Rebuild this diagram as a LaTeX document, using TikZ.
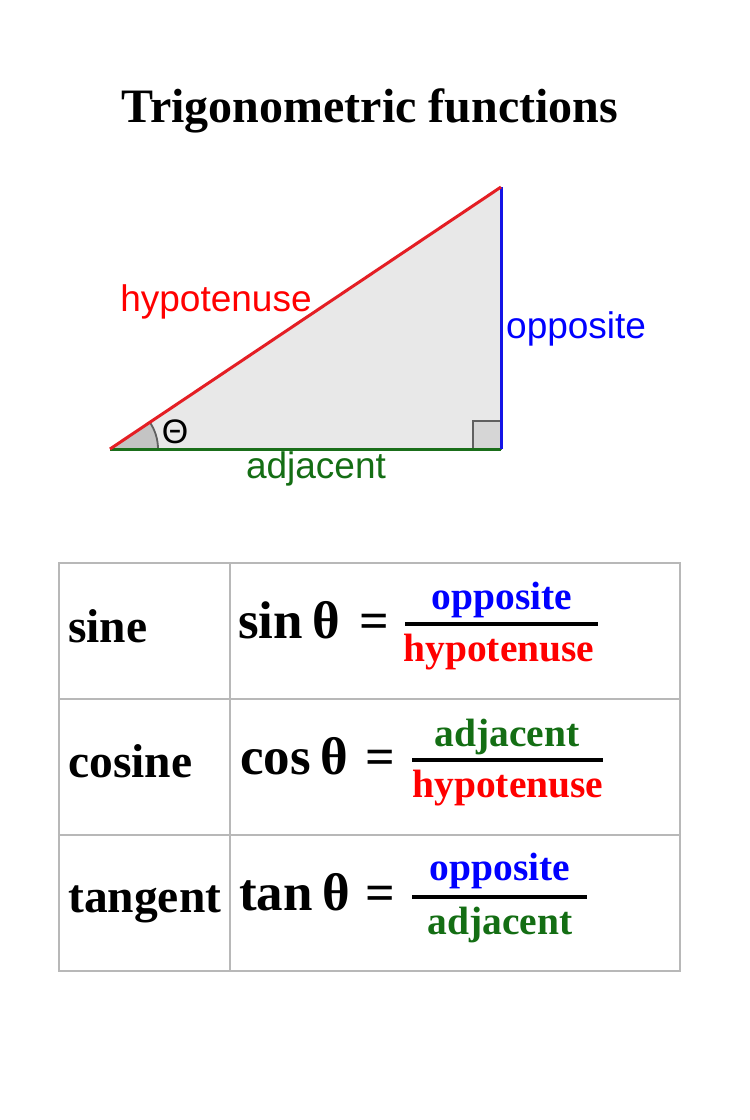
\documentclass[tikz,border=0pt]{standalone}
\usepackage{fontspec}
\setmainfont{Liberation Serif}
\newfontfamily\arialfont{Liberation Sans}
\definecolor{linered}{RGB}{228,30,36}
\definecolor{lineblue}{RGB}{20,20,230}
\definecolor{linegreen}{RGB}{26,110,26}
\definecolor{txtred}{RGB}{255,0,0}
\definecolor{txtblue}{RGB}{0,0,255}
\definecolor{txtgreen}{RGB}{20,110,20}
\definecolor{trifill}{RGB}{232,232,232}
\definecolor{wedgefill}{RGB}{196,196,196}
\definecolor{sqfill}{RGB}{214,214,214}
\definecolor{darkgray}{RGB}{96,96,96}
\definecolor{tablegray}{RGB}{184,184,184}
\tikzset{
  trilabel/.style={inner sep=0pt, font=\arialfont\fontsize{37}{42}\selectfont},
  rowlabel/.style={inner sep=0pt, anchor=base west, font=\bfseries\fontsize{47.5}{54}\selectfont},
  fnname/.style={inner sep=0pt, anchor=base west, font=\bfseries\fontsize{53}{60}\selectfont},
  eqsign/.style={inner sep=0pt, anchor=base, font=\bfseries\fontsize{52}{60}\selectfont},
  fracpart/.style={inner sep=0pt, anchor=base, font=\bfseries\fontsize{39.5}{46}\selectfont},
  fracbar/.style={line width=3.5pt},
  tableline/.style={draw=tablegray, line width=1.4pt},
  side/.style={line width=3pt},
}
\begin{document}
\begin{tikzpicture}[x=1pt,y=-1pt]
\useasboundingbox[fill=white] (0,0) rectangle (750,1120);
% title
\node[inner sep=0pt, anchor=base, font=\bfseries\fontsize{48}{58}\selectfont] (title) at (370,122) {Trigonometric functions};
% triangle
\coordinate (A) at (110,449);
\coordinate (B) at (501,449);
\coordinate (C) at (501,187);
\fill[trifill] (A) -- (B) -- (C) -- cycle;
\fill[wedgefill] (A) -- ++(48,0) arc[start angle=0, end angle=-33.8, radius=48] -- cycle;
\draw[darkgray, line width=1.8pt] (A) ++(48,0) arc[start angle=0, end angle=-33.8, radius=48];
\filldraw[fill=sqfill, draw=darkgray, line width=1.8pt] (473,421) rectangle (501,449);
\draw[side, linegreen] (A) -- (B);
\draw[side, lineblue] (B) -- (C);
\draw[side, linered] (A) -- (C);
\node[trilabel, anchor=base, text=txtred] (hyplbl) at (216,311) {hypotenuse};
\node[trilabel, anchor=base west, text=txtblue] (opplbl) at (506,338) {opposite};
\node[trilabel, anchor=base, text=txtgreen] (adjlbl) at (316,478) {adjacent};
\node[inner sep=0pt, anchor=base, font=\arialfont\fontsize{34}{38}\selectfont] (thetalbl) at (175,443) {Θ};
% table
\draw[tableline] (59,563) rectangle (680,971);
\draw[tableline] (230,563) -- (230,971);
\draw[tableline] (59,699) -- (680,699);
\draw[tableline] (59,835) -- (680,835);
% row labels
\node[rowlabel] (sinelbl) at (68,642) {sine};
\node[rowlabel] (cosinelbl) at (68,777) {cosine};
\node[rowlabel] (tangentlbl) at (68,912) {tangent};
% row 1
\node[fnname] (sinfn) at (238,638) {sin\hspace{0.18em}θ};
\node[eqsign] (eq1) at (374.5,638) {=};
\coordinate (bar1l) at (405,624);
\coordinate (bar1r) at (598,624);
\draw[fracbar] (bar1l) -- (bar1r);
\node[fracpart, text=txtblue] (num1) at (502,609) {opposite};
\node[fracpart, text=txtred] (den1) at (499,661) {hypotenuse};
% row 2
\node[fnname] (cosfn) at (240,774) {cos\hspace{0.18em}θ};
\node[eqsign] (eq2) at (380,774) {=};
\coordinate (bar2l) at (412,760);
\coordinate (bar2r) at (603,760);
\draw[fracbar] (bar2l) -- (bar2r);
\node[fracpart, text=txtgreen] (num2) at (507,746) {adjacent};
\node[fracpart, text=txtred] (den2) at (508,797) {hypotenuse};
% row 3
\node[fnname] (tanfn) at (239,910) {tan\hspace{0.18em}θ};
\node[eqsign] (eq3) at (380,910) {=};
\coordinate (bar3l) at (412,897);
\coordinate (bar3r) at (587,897);
\draw[fracbar] (bar3l) -- (bar3r);
\node[fracpart, text=txtblue] (num3) at (500,880) {opposite};
\node[fracpart, text=txtgreen] (den3) at (500,934) {adjacent};
\end{tikzpicture}
\end{document}
